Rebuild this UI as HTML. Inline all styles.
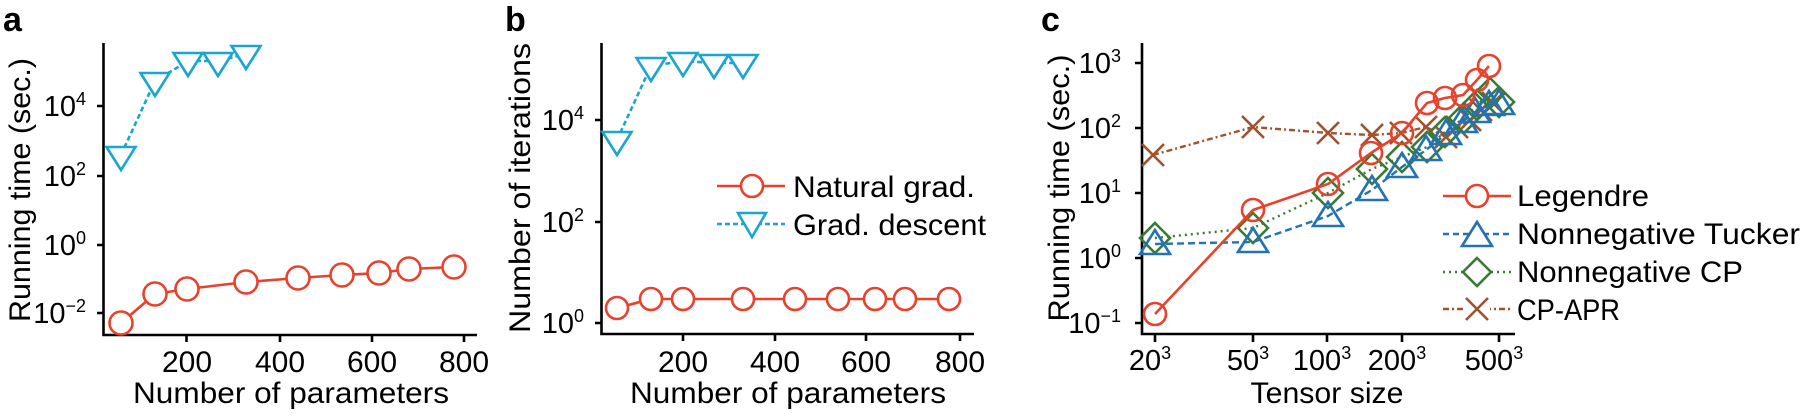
<!DOCTYPE html>
<html><head><meta charset="utf-8"><style>
html,body{margin:0;padding:0;background:#fff;}
svg{display:block;font-family:"Liberation Sans",sans-serif;}
</style></head><body>
<svg width="1804" height="417" viewBox="0 0 1804 417" xmlns="http://www.w3.org/2000/svg">
<g font-size="28" fill="#000">
<!-- Panel a -->
<text x="3" y="31" font-size="34" font-weight="bold">a</text>
<g stroke="#000" stroke-width="2.6" fill="none">
<path d="M103.5,43 V335 H477"/>
<path d="M97,106 H103.5 M97,176 H103.5 M97,245 H103.5 M97,313 H103.5"/>
<path d="M186.5,335 V342 M280,335 V342 M372,335 V342 M464,335 V342"/>
</g>
<g text-anchor="end" font-size="29">
<text x="86" y="116">10<tspan font-size="18" dy="-11">4</tspan></text>
<text x="86" y="186">10<tspan font-size="18" dy="-11">2</tspan></text>
<text x="86" y="255">10<tspan font-size="18" dy="-11">0</tspan></text>
<text x="86" y="323">10<tspan font-size="18" dy="-11">−2</tspan></text>
</g>
<g text-anchor="middle" font-size="30">
<text x="187" y="372">200</text><text x="280" y="372">400</text><text x="372" y="372">600</text><text x="464" y="372">800</text>
<text x="291" y="403" textLength="316" lengthAdjust="spacingAndGlyphs">Number of parameters</text>
<text transform="translate(30,190) rotate(-90)" textLength="264" lengthAdjust="spacingAndGlyphs">Running time (sec.)</text>
</g>
<polyline points="121,155 155,81 188,61 218,61 246,54" fill="none" stroke="#1ba6cf" stroke-width="2.6" stroke-dasharray="5,3"/>
<g stroke="#1ba6cf" fill="#fff" stroke-width="2.6">
<polygon points="106.5,147 135.5,147 121,170"/><polygon points="140.5,73 169.5,73 155,96"/><polygon points="173.5,53 202.5,53 188,76"/><polygon points="203.5,53 232.5,53 218,76"/><polygon points="231.5,46 260.5,46 246,69"/>
</g>
<polyline points="121,323 155,294 187,289 246,282 298,278 342,275 379,273 409,269 454,267" fill="none" stroke="#e8412c" stroke-width="2.6"/>
<g stroke="#e8412c" fill="#fff" stroke-width="2.6">
<circle cx="121" cy="323" r="11.5"/><circle cx="155" cy="294" r="11.5"/><circle cx="187" cy="289" r="11.5"/><circle cx="246" cy="282" r="11.5"/><circle cx="298" cy="278" r="11.5"/><circle cx="342" cy="275" r="11.5"/><circle cx="379" cy="273" r="11.5"/><circle cx="409" cy="269" r="11.5"/><circle cx="454" cy="267" r="11.5"/>
</g>

<!-- Panel b -->
<text x="505" y="31" font-size="34" font-weight="bold">b</text>
<g stroke="#000" stroke-width="2.6" fill="none">
<path d="M601.5,43 V334 H974"/>
<path d="M595,120 H601.5 M595,222 H601.5 M595,323 H601.5"/>
<path d="M683,334 V341 M775,334 V341 M866,334 V341 M960,334 V341"/>
</g>
<g text-anchor="end" font-size="29">
<text x="584" y="130">10<tspan font-size="18" dy="-11">4</tspan></text>
<text x="584" y="232">10<tspan font-size="18" dy="-11">2</tspan></text>
<text x="584" y="333">10<tspan font-size="18" dy="-11">0</tspan></text>
</g>
<g text-anchor="middle" font-size="30">
<text x="683" y="372">200</text><text x="775" y="372">400</text><text x="866" y="372">600</text><text x="960" y="372">800</text>
<text x="788" y="403" textLength="316" lengthAdjust="spacingAndGlyphs">Number of parameters</text>
<text transform="translate(530,188) rotate(-90)" textLength="290" lengthAdjust="spacingAndGlyphs">Number of iterations</text>
</g>
<polyline points="617,140 651,66 683,61 714,63 743,63" fill="none" stroke="#1ba6cf" stroke-width="2.6" stroke-dasharray="5,3"/>
<g stroke="#1ba6cf" fill="#fff" stroke-width="2.6">
<polygon points="602.5,132 631.5,132 617,155"/><polygon points="636.5,58 665.5,58 651,81"/><polygon points="668.5,53 697.5,53 683,76"/><polygon points="699.5,55 728.5,55 714,78"/><polygon points="728.5,55 757.5,55 743,78"/>
</g>
<polyline points="617,308 651,299 683,299 743,299 795,299 838,299 875,299 905,299 949,299" fill="none" stroke="#e8412c" stroke-width="2.6"/>
<g stroke="#e8412c" fill="#fff" stroke-width="2.6">
<circle cx="617" cy="308" r="11"/><circle cx="651" cy="299" r="11"/><circle cx="683" cy="299" r="11"/><circle cx="743" cy="299" r="11"/><circle cx="795" cy="299" r="11"/><circle cx="838" cy="299" r="11"/><circle cx="875" cy="299" r="11"/><circle cx="905" cy="299" r="11"/><circle cx="949" cy="299" r="11"/>
</g>
<!-- legend b -->
<line x1="717" y1="186" x2="785" y2="186" stroke="#e8412c" stroke-width="2.6"/>
<circle cx="752" cy="186" r="11" fill="#fff" stroke="#e8412c" stroke-width="2.6"/>
<line x1="717" y1="224" x2="785" y2="224" stroke="#1ba6cf" stroke-width="2.6" stroke-dasharray="5,3"/>
<polygon points="738,213 766,213 752,237" fill="#fff" stroke="#1ba6cf" stroke-width="2.6"/>
<g font-size="30">
<text x="793" y="197" textLength="182" lengthAdjust="spacingAndGlyphs">Natural grad.</text>
<text x="793" y="235" textLength="193" lengthAdjust="spacingAndGlyphs">Grad. descent</text>
</g>

<!-- Panel c -->
<text x="1041" y="31" font-size="34" font-weight="bold">c</text>
<g stroke="#000" stroke-width="2.6" fill="none">
<path d="M1142,43 V334 H1515"/>
<path d="M1135,63 H1142 M1135,128 H1142 M1135,193 H1142 M1135,258 H1142 M1135,323 H1142"/>
<path d="M1155,334 V342 M1253,334 V342 M1327,334 V342 M1402,334 V342 M1499,334 V342"/>
</g>
<g text-anchor="end" font-size="29">
<text x="1121" y="73">10<tspan font-size="18" dy="-11">3</tspan></text>
<text x="1121" y="138">10<tspan font-size="18" dy="-11">2</tspan></text>
<text x="1121" y="203">10<tspan font-size="18" dy="-11">1</tspan></text>
<text x="1121" y="268">10<tspan font-size="18" dy="-11">0</tspan></text>
<text x="1121" y="333">10<tspan font-size="18" dy="-11">−1</tspan></text>
</g>
<g text-anchor="middle" font-size="29">
<text x="1150" y="370">20<tspan font-size="18" dy="-11">3</tspan></text>
<text x="1248" y="370">50<tspan font-size="18" dy="-11">3</tspan></text>
<text x="1322" y="370">100<tspan font-size="18" dy="-11">3</tspan></text>
<text x="1397" y="370">200<tspan font-size="18" dy="-11">3</tspan></text>
<text x="1494" y="370">500<tspan font-size="18" dy="-11">3</tspan></text>
</g>
<g text-anchor="middle" font-size="30">
<text x="1327" y="403" textLength="153" lengthAdjust="spacingAndGlyphs">Tensor size</text>
<text transform="translate(1069,188) rotate(-90)" textLength="267" lengthAdjust="spacingAndGlyphs">Running time (sec.)</text>
</g>
<!-- CP-APR -->
<polyline points="1153,155 1253,127 1328,133 1372,135 1401,133 1426,127 1446,137 1457,127 1470,120 1481,110 1493,103" fill="none" stroke="#a0522d" stroke-width="2.4" stroke-dasharray="6,3,2,3"/>
<g stroke="#a0522d" stroke-width="2.6">
<path d="M1142,144 l22,22 m0,-22 l-22,22 M1242,116 l22,22 m0,-22 l-22,22 M1317,122 l22,22 m0,-22 l-22,22 M1361,124 l22,22 m0,-22 l-22,22 M1390,122 l22,22 m0,-22 l-22,22 M1415,116 l22,22 m0,-22 l-22,22 M1435,126 l22,22 m0,-22 l-22,22 M1446,116 l22,22 m0,-22 l-22,22 M1459,109 l22,22 m0,-22 l-22,22 M1470,99 l22,22 m0,-22 l-22,22 M1482,92 l22,22 m0,-22 l-22,22"/>
</g>
<!-- NCP -->
<polyline points="1155,238 1253,228 1328,193 1372,169 1402,157 1427,147 1445,132 1464,118 1477,105 1490,93 1499,102" fill="none" stroke="#3a7a35" stroke-width="2.4" stroke-dasharray="2,4"/>
<g stroke="#3a7a35" fill="none" stroke-width="2.6">
<polygon points="1155,223 1170,238 1155,253 1140,238"/><polygon points="1253,213 1268,228 1253,243 1238,228"/><polygon points="1328,178 1343,193 1328,208 1313,193"/><polygon points="1372,154 1387,169 1372,184 1357,169"/><polygon points="1402,142 1417,157 1402,172 1387,157"/><polygon points="1427,132 1442,147 1427,162 1412,147"/><polygon points="1445,117 1460,132 1445,147 1430,132"/><polygon points="1464,103 1479,118 1464,133 1449,118"/><polygon points="1477,90 1492,105 1477,120 1462,105"/><polygon points="1490,78 1505,93 1490,108 1475,93"/><polygon points="1499,87 1514,102 1499,117 1484,102"/>
</g>
<!-- Tucker -->
<polyline points="1155,244 1253,242 1328,216 1372,190 1402,167 1426,150 1446,134 1462,122 1475,112 1489,105 1499,104" fill="none" stroke="#2272b4" stroke-width="2.4" stroke-dasharray="7,4"/>
<g stroke="#2272b4" fill="none" stroke-width="2.6">
<polygon points="1155,230 1170,254 1140,254"/><polygon points="1253,228 1268,252 1238,252"/><polygon points="1328,202 1343,226 1313,226"/><polygon points="1372,176 1387,200 1357,200"/><polygon points="1402,153 1417,177 1387,177"/><polygon points="1426,136 1441,160 1411,160"/><polygon points="1446,120 1461,144 1431,144"/><polygon points="1462,108 1477,132 1447,132"/><polygon points="1475,98 1490,122 1460,122"/><polygon points="1489,91 1504,115 1474,115"/><polygon points="1499,90 1514,114 1484,114"/>
</g>
<!-- Legendre -->
<polyline points="1155,314 1253,210 1328,184 1371,153 1402,133 1427,103 1445,98 1463,95 1477,80 1489,66" fill="none" stroke="#e8412c" stroke-width="2.6"/>
<g stroke="#e8412c" fill="none" stroke-width="2.6">
<circle cx="1155" cy="314" r="11"/><circle cx="1253" cy="210" r="11"/><circle cx="1328" cy="184" r="11"/><circle cx="1371" cy="153" r="11"/><circle cx="1402" cy="133" r="11"/><circle cx="1427" cy="103" r="11"/><circle cx="1445" cy="98" r="11"/><circle cx="1463" cy="95" r="11"/><circle cx="1477" cy="80" r="11"/><circle cx="1489" cy="66" r="11"/>
</g>
<!-- legend c -->
<line x1="1443" y1="196" x2="1511" y2="196" stroke="#e8412c" stroke-width="2.6"/>
<circle cx="1477" cy="196" r="11" fill="#fff" stroke="#e8412c" stroke-width="2.6"/>
<line x1="1443" y1="234" x2="1511" y2="234" stroke="#2272b4" stroke-width="2.4" stroke-dasharray="6,4"/>
<polygon points="1477,222 1492,246 1462,246" fill="#fff" stroke="#2272b4" stroke-width="2.6"/>
<line x1="1443" y1="272" x2="1511" y2="272" stroke="#3a7a35" stroke-width="2.4" stroke-dasharray="2,4"/>
<polygon points="1477,258 1491,272 1477,286 1463,272" fill="#fff" stroke="#3a7a35" stroke-width="2.6"/>
<line x1="1443" y1="309" x2="1511" y2="309" stroke="#a0522d" stroke-width="2.4" stroke-dasharray="6,3,2,3"/>
<rect x="1464" y="297" width="26" height="24" fill="#fff"/>
<path d="M1466,298 l22,22 m0,-22 l-22,22" stroke="#a0522d" stroke-width="2.6"/>
<g font-size="30">
<text x="1517" y="206" textLength="132" lengthAdjust="spacingAndGlyphs">Legendre</text>
<text x="1517" y="244" textLength="283" lengthAdjust="spacingAndGlyphs">Nonnegative Tucker</text>
<text x="1517" y="282" textLength="226" lengthAdjust="spacingAndGlyphs">Nonnegative CP</text>
<text x="1517" y="320" textLength="103" lengthAdjust="spacingAndGlyphs">CP-APR</text>
</g>
</g>
</svg>
</body></html>
